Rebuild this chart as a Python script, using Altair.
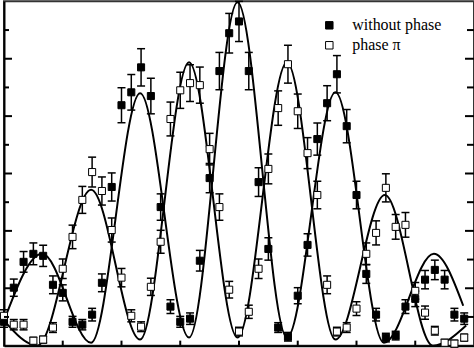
import altair as alt
import pandas as pd

# Measurement step index (x) and counts for both series
steps = list(range(48))

without_phase = [0.83, 2.02, 2.92, 3.20, 3.13, 2.12, 1.84, 0.83, 0.73, 1.08,
                 2.19, 5.53, 8.38, 8.83, 9.70, 8.70, 4.83, 1.36, 0.83, 0.94,
                 2.96, 5.84, 9.57, 10.89, 11.30, 9.57, 5.70, 3.37, 0.63, 0.31,
                 1.74, 3.51, 7.20, 8.45, 9.46, 7.65, 5.25, 2.50, 1.08, 0.28,
                 0.35, 1.36, 1.63, 2.30, 2.64, 2.30, 1.08, 0.94]
without_phase_err = [0.19, 0.30, 0.36, 0.38, 0.37, 0.31, 0.28, 0.19, 0.18, 0.22,
                     0.31, 0.49, 0.61, 0.62, 0.65, 0.62, 0.46, 0.24, 0.19, 0.20,
                     0.36, 0.51, 0.65, 0.69, 0.70, 0.65, 0.50, 0.39, 0.17, 0.15,
                     0.28, 0.39, 0.56, 0.61, 0.65, 0.58, 0.48, 0.33, 0.22, 0.15,
                     0.15, 0.24, 0.27, 0.32, 0.34, 0.32, 0.22, 0.20]

phase_pi = [1.04, 0.73, 0.73, 0.17, 0.21, 0.63, 2.68, 3.79, 5.08, 6.05,
            5.39, 4.03, 2.37, 1.04, 0.66, 2.05, 3.62, 7.90, 8.90, 9.15,
            9.08, 6.85, 4.83, 1.95, 0.49, 1.18, 2.68, 6.16, 8.28, 9.81,
            8.17, 6.71, 5.25, 2.12, 0.49, 0.63, 1.29, 3.20, 3.93, 5.50,
            4.14, 4.21, 1.91, 1.15, 0.52, 0.10, 0.07, 0.28]
phase_pi_err = [0.21, 0.18, 0.18, 0.12, 0.12, 0.17, 0.34, 0.41, 0.47, 0.52,
                0.49, 0.42, 0.32, 0.21, 0.17, 0.30, 0.40, 0.59, 0.63, 0.64,
                0.63, 0.55, 0.46, 0.29, 0.15, 0.23, 0.34, 0.52, 0.60, 0.66,
                0.60, 0.54, 0.48, 0.31, 0.15, 0.17, 0.24, 0.38, 0.42, 0.49,
                0.43, 0.43, 0.29, 0.23, 0.15, 0.12, 0.12, 0.12]

# Fitted fringe curves: extrema of each fit
fit_a_x = [0, 3.9, 8.9, 13.9, 18.9, 23.85, 28.9, 33.85, 38.8, 43.9, 46.9]
fit_a_y = [0.87, 3.2, 0.1, 8.8, 0.28, 11.97, 0.28, 8.83, 0.1, 3.2, 1.39]
fit_b_x = [0, 3.4, 8.9, 13.9, 18.9, 23.85, 28.9, 33.85, 38.9, 43.8, 47.2]
fit_b_y = [0.87, 0.0, 5.43, 0.21, 9.88, 0.28, 9.88, 0.21, 5.25, 0.0, 0.7]

series_names = ["without phase", "phase \u03c0"]

# Frame tick positions
x_ticks = [6, 12, 18, 24, 30, 36, 42]
y_major = [2, 4, 6, 8, 10]
y_minor = [1, 3, 5, 7, 9, 11]

W, H = 471, 345

points = pd.concat([
    pd.DataFrame({"x": steps, "y": without_phase, "err": without_phase_err,
                  "series": series_names[0]}),
    pd.DataFrame({"x": steps, "y": phase_pi, "err": phase_pi_err,
                  "series": series_names[1]}),
], ignore_index=True)
points["lo"] = points["y"] - points["err"]
points["hi"] = points["y"] + points["err"]

fits = pd.concat([
    pd.DataFrame({"x": fit_a_x, "y": fit_a_y, "fit": "a"}),
    pd.DataFrame({"x": fit_b_x, "y": fit_b_y, "fit": "b"}),
], ignore_index=True)

xs = alt.Scale(domain=[0, 48], nice=False, zero=False)
ys = alt.Scale(domain=[0, 12], nice=False, zero=False)
x_axis = alt.Axis(labels=False, ticks=False, grid=False, title=None,
                  domainColor="black", domainWidth=2)
y_axis = alt.Axis(labels=False, ticks=False, grid=False, title=None,
                  domainColor="black", domainWidth=2)

base = alt.Chart(points)

curves = alt.Chart(fits).mark_line(
    color="black", strokeWidth=2, interpolate="monotone", clip=True
).encode(
    x=alt.X("x:Q", scale=xs, axis=x_axis),
    y=alt.Y("y:Q", scale=ys, axis=y_axis),
    detail="fit:N",
)

bars = base.mark_rule(color="black", strokeWidth=1.5).encode(
    x=alt.X("x:Q", scale=xs), y=alt.Y("lo:Q", scale=ys), y2="hi:Q"
)
caps_hi = base.mark_tick(color="black", orient="horizontal", size=8,
                         thickness=1.5, opacity=1).encode(
    x=alt.X("x:Q", scale=xs), y=alt.Y("hi:Q", scale=ys)
)
caps_lo = base.mark_tick(color="black", orient="horizontal", size=8,
                         thickness=1.5, opacity=1).encode(
    x=alt.X("x:Q", scale=xs), y=alt.Y("lo:Q", scale=ys)
)

markers = base.mark_square(size=50, stroke="black", strokeWidth=1,
                           opacity=1).encode(
    x=alt.X("x:Q", scale=xs),
    y=alt.Y("y:Q", scale=ys),
    fill=alt.Fill(
        "series:N",
        scale=alt.Scale(domain=series_names, range=["black", "white"]),
        legend=alt.Legend(
            title=None, orient="none", legendX=318, legendY=16,
            padding=0, symbolType="square", symbolSize=56,
            symbolStrokeColor="black", symbolStrokeWidth=1,
            labelFont="Liberation Serif", labelFontSize=16,
            labelColor="black", labelOffset=15, rowPadding=4,
        ),
    ),
)

ymaj_df = pd.DataFrame({"v": y_major})
ymin_df = pd.DataFrame({"v": y_minor})
xt_df = pd.DataFrame({"v": x_ticks})

left_major = alt.Chart(ymaj_df).mark_rule(color="black", strokeWidth=2).encode(
    y=alt.Y("v:Q", scale=ys), x=alt.value(0), x2=alt.value(8))
left_minor = alt.Chart(ymin_df).mark_rule(color="black", strokeWidth=2).encode(
    y=alt.Y("v:Q", scale=ys), x=alt.value(0), x2=alt.value(5))
right_major = alt.Chart(ymaj_df).mark_rule(color="black", strokeWidth=2).encode(
    y=alt.Y("v:Q", scale=ys), x=alt.value(W - 9), x2=alt.value(W))
right_minor = alt.Chart(ymin_df).mark_rule(color="black", strokeWidth=2).encode(
    y=alt.Y("v:Q", scale=ys), x=alt.value(W - 7), x2=alt.value(W))
bottom_ticks = alt.Chart(xt_df).mark_rule(color="black", strokeWidth=2).encode(
    x=alt.X("v:Q", scale=xs), y=alt.value(H - 5), y2=alt.value(H))

chart = alt.layer(
    curves, bars, caps_hi, caps_lo, markers,
    left_major, left_minor, right_major, right_minor, bottom_ticks,
).properties(
    width=W, height=H,
    autosize=alt.AutoSizeParams(type="none"),
    padding={"left": 4, "top": 1, "right": 0, "bottom": 2},
    background="white",
).configure_view(
    stroke="#333333", strokeWidth=2
)

chart.save("out.html", embed_options={"renderer": "svg", "actions": False})
